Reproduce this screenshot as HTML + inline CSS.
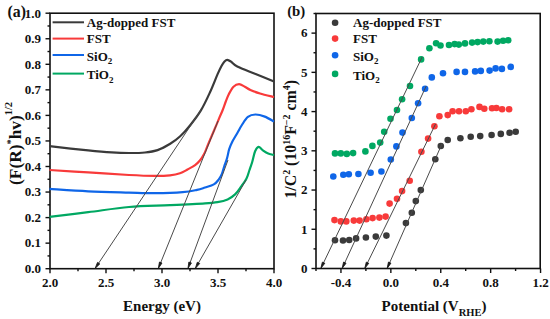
<!DOCTYPE html>
<html><head><meta charset="utf-8"><style>
html,body{margin:0;padding:0;background:#fff;width:550px;height:319px;overflow:hidden}
svg{display:block}
text{font-family:"Liberation Serif",serif;font-weight:bold}
</style></head><body>
<svg width="550" height="319" viewBox="0 0 550 319">
<rect x="50.0" y="13.2" width="224.0" height="255.5" fill="none" stroke="#111" stroke-width="1.6"/>
<line x1="45.5" y1="268.70" x2="50.0" y2="268.70" stroke="#111" stroke-width="1.4"/>
<text x="41" y="273.00" font-family="Liberation Serif" font-weight="bold" font-size="13" text-anchor="end" fill="#111">0.0</text>
<line x1="47.5" y1="255.92" x2="50.0" y2="255.92" stroke="#111" stroke-width="1.4"/>
<line x1="45.5" y1="243.15" x2="50.0" y2="243.15" stroke="#111" stroke-width="1.4"/>
<text x="41" y="247.45" font-family="Liberation Serif" font-weight="bold" font-size="13" text-anchor="end" fill="#111">0.1</text>
<line x1="47.5" y1="230.37" x2="50.0" y2="230.37" stroke="#111" stroke-width="1.4"/>
<line x1="45.5" y1="217.60" x2="50.0" y2="217.60" stroke="#111" stroke-width="1.4"/>
<text x="41" y="221.90" font-family="Liberation Serif" font-weight="bold" font-size="13" text-anchor="end" fill="#111">0.2</text>
<line x1="47.5" y1="204.82" x2="50.0" y2="204.82" stroke="#111" stroke-width="1.4"/>
<line x1="45.5" y1="192.05" x2="50.0" y2="192.05" stroke="#111" stroke-width="1.4"/>
<text x="41" y="196.35" font-family="Liberation Serif" font-weight="bold" font-size="13" text-anchor="end" fill="#111">0.3</text>
<line x1="47.5" y1="179.27" x2="50.0" y2="179.27" stroke="#111" stroke-width="1.4"/>
<line x1="45.5" y1="166.50" x2="50.0" y2="166.50" stroke="#111" stroke-width="1.4"/>
<text x="41" y="170.80" font-family="Liberation Serif" font-weight="bold" font-size="13" text-anchor="end" fill="#111">0.4</text>
<line x1="47.5" y1="153.72" x2="50.0" y2="153.72" stroke="#111" stroke-width="1.4"/>
<line x1="45.5" y1="140.95" x2="50.0" y2="140.95" stroke="#111" stroke-width="1.4"/>
<text x="41" y="145.25" font-family="Liberation Serif" font-weight="bold" font-size="13" text-anchor="end" fill="#111">0.5</text>
<line x1="47.5" y1="128.17" x2="50.0" y2="128.17" stroke="#111" stroke-width="1.4"/>
<line x1="45.5" y1="115.40" x2="50.0" y2="115.40" stroke="#111" stroke-width="1.4"/>
<text x="41" y="119.70" font-family="Liberation Serif" font-weight="bold" font-size="13" text-anchor="end" fill="#111">0.6</text>
<line x1="47.5" y1="102.62" x2="50.0" y2="102.62" stroke="#111" stroke-width="1.4"/>
<line x1="45.5" y1="89.85" x2="50.0" y2="89.85" stroke="#111" stroke-width="1.4"/>
<text x="41" y="94.15" font-family="Liberation Serif" font-weight="bold" font-size="13" text-anchor="end" fill="#111">0.7</text>
<line x1="47.5" y1="77.07" x2="50.0" y2="77.07" stroke="#111" stroke-width="1.4"/>
<line x1="45.5" y1="64.30" x2="50.0" y2="64.30" stroke="#111" stroke-width="1.4"/>
<text x="41" y="68.60" font-family="Liberation Serif" font-weight="bold" font-size="13" text-anchor="end" fill="#111">0.8</text>
<line x1="47.5" y1="51.52" x2="50.0" y2="51.52" stroke="#111" stroke-width="1.4"/>
<line x1="45.5" y1="38.75" x2="50.0" y2="38.75" stroke="#111" stroke-width="1.4"/>
<text x="41" y="43.05" font-family="Liberation Serif" font-weight="bold" font-size="13" text-anchor="end" fill="#111">0.9</text>
<line x1="47.5" y1="25.98" x2="50.0" y2="25.98" stroke="#111" stroke-width="1.4"/>
<line x1="45.5" y1="13.20" x2="50.0" y2="13.20" stroke="#111" stroke-width="1.4"/>
<text x="41" y="17.50" font-family="Liberation Serif" font-weight="bold" font-size="13" text-anchor="end" fill="#111">1.0</text>
<line x1="50.00" y1="268.7" x2="50.00" y2="273.2" stroke="#111" stroke-width="1.4"/>
<text x="50.00" y="287" font-family="Liberation Serif" font-weight="bold" font-size="13" text-anchor="middle" fill="#111">2.0</text>
<line x1="78.00" y1="268.7" x2="78.00" y2="271.2" stroke="#111" stroke-width="1.4"/>
<line x1="106.00" y1="268.7" x2="106.00" y2="273.2" stroke="#111" stroke-width="1.4"/>
<text x="106.00" y="287" font-family="Liberation Serif" font-weight="bold" font-size="13" text-anchor="middle" fill="#111">2.5</text>
<line x1="134.00" y1="268.7" x2="134.00" y2="271.2" stroke="#111" stroke-width="1.4"/>
<line x1="162.00" y1="268.7" x2="162.00" y2="273.2" stroke="#111" stroke-width="1.4"/>
<text x="162.00" y="287" font-family="Liberation Serif" font-weight="bold" font-size="13" text-anchor="middle" fill="#111">3.0</text>
<line x1="190.00" y1="268.7" x2="190.00" y2="271.2" stroke="#111" stroke-width="1.4"/>
<line x1="218.00" y1="268.7" x2="218.00" y2="273.2" stroke="#111" stroke-width="1.4"/>
<text x="218.00" y="287" font-family="Liberation Serif" font-weight="bold" font-size="13" text-anchor="middle" fill="#111">3.5</text>
<line x1="246.00" y1="268.7" x2="246.00" y2="271.2" stroke="#111" stroke-width="1.4"/>
<line x1="274.00" y1="268.7" x2="274.00" y2="273.2" stroke="#111" stroke-width="1.4"/>
<text x="274.00" y="287" font-family="Liberation Serif" font-weight="bold" font-size="13" text-anchor="middle" fill="#111">4.0</text>
<text x="7.5" y="17.4" font-family="Liberation Serif" font-weight="bold" font-size="15.8" fill="#111">(a)</text>
<text x="162" y="311" font-family="Liberation Serif" font-weight="bold" font-size="15" text-anchor="middle" fill="#111">Energy (eV)</text>
<text transform="translate(21,143.4) rotate(-90)" font-family="Liberation Serif" font-weight="bold" font-size="17.3" text-anchor="middle" fill="#111">(F(R)<tspan font-size="10.5" dy="-7">*</tspan><tspan dy="7">hv)</tspan><tspan font-size="10.5" dy="-9">1/2</tspan></text>
<path d="M49.50,146.20 C55.95,146.90 77.83,149.37 88.20,150.40 C98.57,151.43 104.90,151.97 111.70,152.40 C118.50,152.83 123.45,152.98 129.00,153.00 C134.55,153.02 140.23,152.98 145.00,152.50 C149.77,152.02 153.40,151.55 157.60,150.10 C161.80,148.65 166.43,146.10 170.20,143.80 C173.97,141.50 176.87,139.40 180.20,136.30 C183.53,133.20 186.75,129.52 190.20,125.20 C193.65,120.88 197.60,115.88 200.90,110.40 C204.20,104.92 207.23,98.30 210.00,92.30 C212.77,86.30 215.58,78.78 217.50,74.40 C219.42,70.02 220.33,68.15 221.50,66.00 C222.67,63.85 223.53,62.53 224.50,61.50 C225.47,60.47 226.22,59.78 227.30,59.80 C228.38,59.82 229.33,60.48 231.00,61.60 C232.67,62.72 233.20,64.42 237.30,66.50 C241.40,68.58 249.48,71.53 255.60,74.05 C261.72,76.57 270.93,80.34 274.00,81.60" fill="none" stroke="#3a3a3a" stroke-width="2.2" stroke-linejoin="round"/>
<path d="M49.50,170.00 C55.95,170.40 74.95,171.57 88.20,172.40 C101.45,173.23 117.87,174.42 129.00,175.00 C140.13,175.58 148.17,175.85 155.00,175.90 C161.83,175.95 165.83,175.73 170.00,175.30 C174.17,174.87 177.08,174.27 180.00,173.30 C182.92,172.33 184.98,170.87 187.50,169.50 C190.02,168.13 192.97,166.68 195.10,165.10 C197.23,163.52 198.78,161.88 200.30,160.00 C201.82,158.12 203.07,155.98 204.20,153.80 C205.33,151.62 206.10,149.28 207.10,146.90 C208.10,144.52 209.01,142.32 210.20,139.50 C211.39,136.68 212.77,133.52 214.25,130.00 C215.73,126.48 217.69,121.73 219.10,118.40 C220.51,115.07 221.58,112.82 222.70,110.00 C223.82,107.18 224.78,104.13 225.80,101.50 C226.82,98.87 227.52,96.67 228.80,94.20 C230.08,91.73 231.78,88.37 233.50,86.70 C235.22,85.03 237.22,84.20 239.10,84.20 C240.98,84.20 242.92,85.73 244.80,86.70 C246.68,87.67 247.87,88.87 250.40,90.00 C252.93,91.13 256.07,92.33 260.00,93.50 C263.93,94.67 271.67,96.42 274.00,97.00" fill="none" stroke="#F83A3A" stroke-width="2.2" stroke-linejoin="round"/>
<path d="M49.50,188.90 C55.95,189.30 74.95,190.68 88.20,191.30 C101.45,191.92 117.87,192.28 129.00,192.60 C140.13,192.92 146.05,193.27 155.00,193.20 C163.95,193.13 175.70,192.75 182.70,192.20 C189.70,191.65 193.28,190.68 197.00,189.90 C200.72,189.12 202.20,188.42 205.00,187.50 C207.80,186.58 211.50,185.75 213.80,184.40 C216.10,183.05 217.45,181.17 218.80,179.40 C220.15,177.63 221.00,175.95 221.90,173.80 C222.80,171.65 223.33,169.13 224.20,166.50 C225.07,163.87 226.27,160.88 227.10,158.00 C227.93,155.12 228.32,151.95 229.20,149.20 C230.08,146.45 231.02,144.25 232.40,141.50 C233.78,138.75 235.92,135.45 237.50,132.70 C239.08,129.95 240.17,127.63 241.90,125.00 C243.63,122.37 245.65,118.65 247.90,116.90 C250.15,115.15 252.58,114.55 255.40,114.50 C258.22,114.45 261.70,115.42 264.80,116.60 C267.90,117.78 272.47,120.77 274.00,121.60" fill="none" stroke="#0F66E8" stroke-width="2.2" stroke-linejoin="round"/>
<path d="M49.50,216.90 C55.95,216.12 74.95,213.85 88.20,212.20 C101.45,210.55 115.37,208.17 129.00,207.00 C142.63,205.83 157.33,205.80 170.00,205.20 C182.67,204.60 197.08,203.92 205.00,203.40 C212.92,202.88 213.73,202.77 217.50,202.10 C221.27,201.43 224.67,200.68 227.60,199.40 C230.53,198.12 232.82,196.58 235.10,194.40 C237.38,192.22 239.42,188.90 241.30,186.30 C243.18,183.70 245.03,181.52 246.40,178.80 C247.77,176.08 248.53,172.80 249.50,170.00 C250.47,167.20 251.27,165.12 252.20,162.00 C253.13,158.88 254.03,153.82 255.10,151.30 C256.17,148.78 257.35,147.10 258.60,146.90 C259.85,146.70 261.10,149.05 262.60,150.10 C264.10,151.15 265.70,152.37 267.60,153.20 C269.50,154.03 272.93,154.78 274.00,155.10" fill="none" stroke="#00A862" stroke-width="2.2" stroke-linejoin="round"/>
<line x1="201.00" y1="110.00" x2="98.09" y2="263.98" stroke="#4a4a4a" stroke-width="1.00"/><path d="M95.20,268.30 L97.52,262.40 L99.77,263.90 Z" fill="#1a1a1a" stroke="#1a1a1a" stroke-width="0.9" stroke-linejoin="round"/>
<line x1="218.00" y1="121.00" x2="160.35" y2="263.48" stroke="#4a4a4a" stroke-width="1.00"/><path d="M158.40,268.30 L159.47,262.05 L161.98,263.06 Z" fill="#1a1a1a" stroke="#1a1a1a" stroke-width="0.9" stroke-linejoin="round"/>
<line x1="228.00" y1="160.00" x2="189.80" y2="263.42" stroke="#4a4a4a" stroke-width="1.00"/><path d="M188.00,268.30 L188.88,262.02 L191.41,262.95 Z" fill="#1a1a1a" stroke="#1a1a1a" stroke-width="0.9" stroke-linejoin="round"/>
<line x1="246.00" y1="180.00" x2="197.99" y2="263.79" stroke="#4a4a4a" stroke-width="1.00"/><path d="M195.40,268.30 L197.31,262.25 L199.65,263.59 Z" fill="#1a1a1a" stroke="#1a1a1a" stroke-width="0.9" stroke-linejoin="round"/>
<line x1="52.6" y1="22.30" x2="84" y2="22.30" stroke="#3a3a3a" stroke-width="2"/>
<text x="86.8" y="26.50" font-family="Liberation Serif" font-weight="bold" font-size="13" fill="#111">Ag-dopped FST</text>
<line x1="52.6" y1="38.60" x2="84" y2="38.60" stroke="#F83A3A" stroke-width="2"/>
<text x="86.8" y="42.80" font-family="Liberation Serif" font-weight="bold" font-size="13" fill="#111">FST</text>
<line x1="52.6" y1="55.00" x2="84" y2="55.00" stroke="#0F66E8" stroke-width="2"/>
<text x="86.8" y="60.60" font-family="Liberation Serif" font-weight="bold" font-size="13" fill="#111">SiO<tspan font-size="9" dy="3.6">2</tspan></text>
<line x1="52.6" y1="73.60" x2="84" y2="73.60" stroke="#00A862" stroke-width="2"/>
<text x="86.8" y="79.20" font-family="Liberation Serif" font-weight="bold" font-size="13" fill="#111">TiO<tspan font-size="9" dy="3.6">2</tspan></text>
<rect x="316.0" y="13.5" width="224.2" height="255.0" fill="none" stroke="#111" stroke-width="1.6"/>
<line x1="311.5" y1="268.50" x2="316.0" y2="268.50" stroke="#111" stroke-width="1.4"/>
<text x="307.5" y="272.80" font-family="Liberation Serif" font-weight="bold" font-size="13" text-anchor="end" fill="#111">0</text>
<line x1="313.5" y1="248.88" x2="316.0" y2="248.88" stroke="#111" stroke-width="1.4"/>
<line x1="311.5" y1="229.27" x2="316.0" y2="229.27" stroke="#111" stroke-width="1.4"/>
<text x="307.5" y="233.57" font-family="Liberation Serif" font-weight="bold" font-size="13" text-anchor="end" fill="#111">1</text>
<line x1="313.5" y1="209.66" x2="316.0" y2="209.66" stroke="#111" stroke-width="1.4"/>
<line x1="311.5" y1="190.04" x2="316.0" y2="190.04" stroke="#111" stroke-width="1.4"/>
<text x="307.5" y="194.34" font-family="Liberation Serif" font-weight="bold" font-size="13" text-anchor="end" fill="#111">2</text>
<line x1="313.5" y1="170.43" x2="316.0" y2="170.43" stroke="#111" stroke-width="1.4"/>
<line x1="311.5" y1="150.81" x2="316.0" y2="150.81" stroke="#111" stroke-width="1.4"/>
<text x="307.5" y="155.11" font-family="Liberation Serif" font-weight="bold" font-size="13" text-anchor="end" fill="#111">3</text>
<line x1="313.5" y1="131.19" x2="316.0" y2="131.19" stroke="#111" stroke-width="1.4"/>
<line x1="311.5" y1="111.58" x2="316.0" y2="111.58" stroke="#111" stroke-width="1.4"/>
<text x="307.5" y="115.88" font-family="Liberation Serif" font-weight="bold" font-size="13" text-anchor="end" fill="#111">4</text>
<line x1="313.5" y1="91.97" x2="316.0" y2="91.97" stroke="#111" stroke-width="1.4"/>
<line x1="311.5" y1="72.35" x2="316.0" y2="72.35" stroke="#111" stroke-width="1.4"/>
<text x="307.5" y="76.65" font-family="Liberation Serif" font-weight="bold" font-size="13" text-anchor="end" fill="#111">5</text>
<line x1="313.5" y1="52.74" x2="316.0" y2="52.74" stroke="#111" stroke-width="1.4"/>
<line x1="311.5" y1="33.12" x2="316.0" y2="33.12" stroke="#111" stroke-width="1.4"/>
<text x="307.5" y="37.42" font-family="Liberation Serif" font-weight="bold" font-size="13" text-anchor="end" fill="#111">6</text>
<line x1="313.5" y1="13.51" x2="316.0" y2="13.51" stroke="#111" stroke-width="1.4"/>
<line x1="340.95" y1="268.5" x2="340.95" y2="273.0" stroke="#111" stroke-width="1.4"/>
<text x="340.95" y="287" font-family="Liberation Serif" font-weight="bold" font-size="13" text-anchor="middle" fill="#111">-0.4</text>
<line x1="390.85" y1="268.5" x2="390.85" y2="273.0" stroke="#111" stroke-width="1.4"/>
<text x="390.85" y="287" font-family="Liberation Serif" font-weight="bold" font-size="13" text-anchor="middle" fill="#111">0.0</text>
<line x1="440.75" y1="268.5" x2="440.75" y2="273.0" stroke="#111" stroke-width="1.4"/>
<text x="440.75" y="287" font-family="Liberation Serif" font-weight="bold" font-size="13" text-anchor="middle" fill="#111">0.4</text>
<line x1="490.65" y1="268.5" x2="490.65" y2="273.0" stroke="#111" stroke-width="1.4"/>
<text x="490.65" y="287" font-family="Liberation Serif" font-weight="bold" font-size="13" text-anchor="middle" fill="#111">0.8</text>
<line x1="540.55" y1="268.5" x2="540.55" y2="273.0" stroke="#111" stroke-width="1.4"/>
<text x="540.55" y="287" font-family="Liberation Serif" font-weight="bold" font-size="13" text-anchor="middle" fill="#111">1.2</text>
<line x1="316.00" y1="268.5" x2="316.00" y2="271.0" stroke="#111" stroke-width="1.4"/>
<line x1="365.90" y1="268.5" x2="365.90" y2="271.0" stroke="#111" stroke-width="1.4"/>
<line x1="415.80" y1="268.5" x2="415.80" y2="271.0" stroke="#111" stroke-width="1.4"/>
<line x1="465.70" y1="268.5" x2="465.70" y2="271.0" stroke="#111" stroke-width="1.4"/>
<line x1="515.60" y1="268.5" x2="515.60" y2="271.0" stroke="#111" stroke-width="1.4"/>
<text x="287.2" y="16" font-family="Liberation Serif" font-weight="bold" font-size="14.8" fill="#111">(b)</text>
<text x="434" y="311" font-family="Liberation Serif" font-weight="bold" font-size="15" text-anchor="middle" fill="#111">Potential (V<tspan font-size="10.5" dy="4.5">RHE</tspan><tspan dy="-4.5">)</tspan></text>
<text transform="translate(296,139.3) rotate(-90)" font-family="Liberation Serif" font-weight="bold" font-size="15.8" text-anchor="middle" fill="#111">1/C<tspan font-size="10" dy="-6">2</tspan><tspan dy="6"> (10</tspan><tspan font-size="10" dy="-6">16</tspan><tspan dy="6">F</tspan><tspan font-size="10" dy="-6">−2</tspan><tspan dy="6"> cm</tspan><tspan font-size="10" dy="-6">4</tspan><tspan dy="6">)</tspan></text>
<circle cx="335.0" cy="240.2" r="3.3" fill="#3a3a3a"/>
<circle cx="343.0" cy="240.5" r="3.3" fill="#3a3a3a"/>
<circle cx="349.2" cy="240.0" r="3.3" fill="#3a3a3a"/>
<circle cx="356.1" cy="238.4" r="3.3" fill="#3a3a3a"/>
<circle cx="365.9" cy="237.5" r="3.3" fill="#3a3a3a"/>
<circle cx="375.8" cy="236.6" r="3.3" fill="#3a3a3a"/>
<circle cx="386.4" cy="235.6" r="3.3" fill="#3a3a3a"/>
<circle cx="405.9" cy="223.1" r="3.3" fill="#3a3a3a"/>
<circle cx="411.8" cy="212.7" r="3.3" fill="#3a3a3a"/>
<circle cx="415.8" cy="201.1" r="3.3" fill="#3a3a3a"/>
<circle cx="420.8" cy="190.1" r="3.3" fill="#3a3a3a"/>
<circle cx="435.3" cy="159.3" r="3.3" fill="#3a3a3a"/>
<circle cx="440.8" cy="146.0" r="3.3" fill="#3a3a3a"/>
<circle cx="447.7" cy="140.0" r="3.3" fill="#3a3a3a"/>
<circle cx="460.4" cy="138.3" r="3.3" fill="#3a3a3a"/>
<circle cx="470.7" cy="136.8" r="3.3" fill="#3a3a3a"/>
<circle cx="480.2" cy="136.1" r="3.3" fill="#3a3a3a"/>
<circle cx="491.6" cy="135.0" r="3.3" fill="#3a3a3a"/>
<circle cx="500.8" cy="133.9" r="3.3" fill="#3a3a3a"/>
<circle cx="509.6" cy="132.8" r="3.3" fill="#3a3a3a"/>
<circle cx="515.7" cy="131.7" r="3.3" fill="#3a3a3a"/>
<circle cx="334.5" cy="220.1" r="3.3" fill="#F83A3A"/>
<circle cx="340.8" cy="221.4" r="3.3" fill="#F83A3A"/>
<circle cx="346.3" cy="221.4" r="3.3" fill="#F83A3A"/>
<circle cx="353.8" cy="220.6" r="3.3" fill="#F83A3A"/>
<circle cx="359.6" cy="220.6" r="3.3" fill="#F83A3A"/>
<circle cx="366.4" cy="219.3" r="3.3" fill="#F83A3A"/>
<circle cx="372.6" cy="218.1" r="3.3" fill="#F83A3A"/>
<circle cx="379.4" cy="217.6" r="3.3" fill="#F83A3A"/>
<circle cx="385.6" cy="216.6" r="3.3" fill="#F83A3A"/>
<circle cx="389.6" cy="203.6" r="3.3" fill="#F83A3A"/>
<circle cx="397.0" cy="198.8" r="3.3" fill="#F83A3A"/>
<circle cx="402.1" cy="191.1" r="3.3" fill="#F83A3A"/>
<circle cx="409.7" cy="180.7" r="3.3" fill="#F83A3A"/>
<circle cx="421.4" cy="151.7" r="3.3" fill="#F83A3A"/>
<circle cx="428.1" cy="138.6" r="3.3" fill="#F83A3A"/>
<circle cx="434.4" cy="126.3" r="3.3" fill="#F83A3A"/>
<circle cx="439.4" cy="116.3" r="3.3" fill="#F83A3A"/>
<circle cx="447.7" cy="115.1" r="3.3" fill="#F83A3A"/>
<circle cx="452.6" cy="111.3" r="3.3" fill="#F83A3A"/>
<circle cx="459.0" cy="111.3" r="3.3" fill="#F83A3A"/>
<circle cx="465.8" cy="111.3" r="3.3" fill="#F83A3A"/>
<circle cx="471.4" cy="109.3" r="3.3" fill="#F83A3A"/>
<circle cx="479.5" cy="106.9" r="3.3" fill="#F83A3A"/>
<circle cx="484.3" cy="108.7" r="3.3" fill="#F83A3A"/>
<circle cx="492.0" cy="108.2" r="3.3" fill="#F83A3A"/>
<circle cx="496.4" cy="108.0" r="3.3" fill="#F83A3A"/>
<circle cx="502.1" cy="109.3" r="3.3" fill="#F83A3A"/>
<circle cx="509.1" cy="109.3" r="3.3" fill="#F83A3A"/>
<circle cx="333.3" cy="176.5" r="3.3" fill="#0F66E8"/>
<circle cx="343.3" cy="174.7" r="3.3" fill="#0F66E8"/>
<circle cx="348.8" cy="174.2" r="3.3" fill="#0F66E8"/>
<circle cx="358.4" cy="174.0" r="3.3" fill="#0F66E8"/>
<circle cx="370.6" cy="172.7" r="3.3" fill="#0F66E8"/>
<circle cx="381.4" cy="171.5" r="3.3" fill="#0F66E8"/>
<circle cx="390.8" cy="159.5" r="3.3" fill="#0F66E8"/>
<circle cx="396.4" cy="146.4" r="3.3" fill="#0F66E8"/>
<circle cx="402.5" cy="132.6" r="3.3" fill="#0F66E8"/>
<circle cx="411.8" cy="118.0" r="3.3" fill="#0F66E8"/>
<circle cx="418.1" cy="103.3" r="3.3" fill="#0F66E8"/>
<circle cx="425.1" cy="88.8" r="3.3" fill="#0F66E8"/>
<circle cx="431.8" cy="77.4" r="3.3" fill="#0F66E8"/>
<circle cx="443.0" cy="73.3" r="3.3" fill="#0F66E8"/>
<circle cx="456.6" cy="71.9" r="3.3" fill="#0F66E8"/>
<circle cx="465.0" cy="71.9" r="3.3" fill="#0F66E8"/>
<circle cx="475.1" cy="71.4" r="3.3" fill="#0F66E8"/>
<circle cx="480.8" cy="70.9" r="3.3" fill="#0F66E8"/>
<circle cx="489.6" cy="70.6" r="3.3" fill="#0F66E8"/>
<circle cx="495.6" cy="68.4" r="3.3" fill="#0F66E8"/>
<circle cx="501.9" cy="68.9" r="3.3" fill="#0F66E8"/>
<circle cx="510.7" cy="66.9" r="3.3" fill="#0F66E8"/>
<circle cx="335.0" cy="153.4" r="3.3" fill="#00A862"/>
<circle cx="340.8" cy="153.4" r="3.3" fill="#00A862"/>
<circle cx="346.8" cy="153.9" r="3.3" fill="#00A862"/>
<circle cx="353.1" cy="153.1" r="3.3" fill="#00A862"/>
<circle cx="365.4" cy="151.4" r="3.3" fill="#00A862"/>
<circle cx="372.4" cy="145.9" r="3.3" fill="#00A862"/>
<circle cx="380.2" cy="142.6" r="3.3" fill="#00A862"/>
<circle cx="384.2" cy="131.8" r="3.3" fill="#00A862"/>
<circle cx="390.5" cy="118.8" r="3.3" fill="#00A862"/>
<circle cx="397.0" cy="110.0" r="3.3" fill="#00A862"/>
<circle cx="402.1" cy="99.2" r="3.3" fill="#00A862"/>
<circle cx="410.0" cy="86.0" r="3.3" fill="#00A862"/>
<circle cx="421.1" cy="59.4" r="3.3" fill="#00A862"/>
<circle cx="429.4" cy="48.3" r="3.3" fill="#00A862"/>
<circle cx="436.1" cy="43.2" r="3.3" fill="#00A862"/>
<circle cx="440.5" cy="45.5" r="3.3" fill="#00A862"/>
<circle cx="449.0" cy="45.0" r="3.3" fill="#00A862"/>
<circle cx="454.6" cy="44.1" r="3.3" fill="#00A862"/>
<circle cx="458.8" cy="44.6" r="3.3" fill="#00A862"/>
<circle cx="465.0" cy="43.4" r="3.3" fill="#00A862"/>
<circle cx="472.1" cy="42.6" r="3.3" fill="#00A862"/>
<circle cx="477.6" cy="42.1" r="3.3" fill="#00A862"/>
<circle cx="483.3" cy="41.6" r="3.3" fill="#00A862"/>
<circle cx="489.4" cy="41.3" r="3.3" fill="#00A862"/>
<circle cx="497.6" cy="41.6" r="3.3" fill="#00A862"/>
<circle cx="503.1" cy="40.8" r="3.3" fill="#00A862"/>
<circle cx="508.2" cy="40.3" r="3.3" fill="#00A862"/>
<line x1="422.20" y1="56.90" x2="323.15" y2="263.61" stroke="#4a4a4a" stroke-width="1.00"/><path d="M320.90,268.30 L322.36,262.13 L324.80,263.29 Z" fill="#1a1a1a" stroke="#1a1a1a" stroke-width="0.9" stroke-linejoin="round"/>
<line x1="426.20" y1="86.00" x2="344.38" y2="263.58" stroke="#4a4a4a" stroke-width="1.00"/><path d="M342.20,268.30 L343.57,262.10 L346.02,263.23 Z" fill="#1a1a1a" stroke="#1a1a1a" stroke-width="0.9" stroke-linejoin="round"/>
<line x1="435.60" y1="123.90" x2="367.09" y2="263.63" stroke="#4a4a4a" stroke-width="1.00"/><path d="M364.80,268.30 L366.32,262.14 L368.74,263.33 Z" fill="#1a1a1a" stroke="#1a1a1a" stroke-width="0.9" stroke-linejoin="round"/>
<line x1="442.10" y1="143.50" x2="389.29" y2="263.54" stroke="#4a4a4a" stroke-width="1.00"/><path d="M387.20,268.30 L388.46,262.08 L390.93,263.17 Z" fill="#1a1a1a" stroke="#1a1a1a" stroke-width="0.9" stroke-linejoin="round"/>
<circle cx="335.1" cy="22.80" r="3.3" fill="#3a3a3a"/>
<text x="353" y="27.00" font-family="Liberation Serif" font-weight="bold" font-size="13" fill="#111">Ag-dopped FST</text>
<circle cx="335.1" cy="38.60" r="3.3" fill="#F83A3A"/>
<text x="353" y="42.80" font-family="Liberation Serif" font-weight="bold" font-size="13" fill="#111">FST</text>
<circle cx="335.1" cy="55.20" r="3.3" fill="#0F66E8"/>
<text x="353" y="60.80" font-family="Liberation Serif" font-weight="bold" font-size="13" fill="#111">SiO<tspan font-size="9" dy="3.6">2</tspan></text>
<circle cx="335.1" cy="73.90" r="3.3" fill="#00A862"/>
<text x="353" y="79.50" font-family="Liberation Serif" font-weight="bold" font-size="13" fill="#111">TiO<tspan font-size="9" dy="3.6">2</tspan></text>
</svg>
</body></html>
